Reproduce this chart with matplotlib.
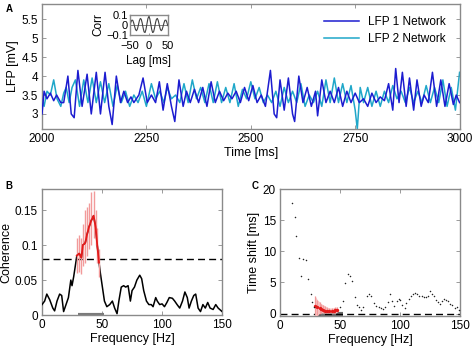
import matplotlib
matplotlib.use("Agg")
import matplotlib.pyplot as plt
import numpy as np

plt.rcParams['font.family'] = ['Liberation Sans', 'DejaVu Sans']
plt.rcParams['font.size'] = 8

# ---------------- Panel A data ----------------
lfp1_t = [2000, 2005, 2012, 2020, 2028, 2035, 2045, 2052, 2062, 2070, 2077, 2086, 2096, 2108,
          2118, 2130, 2140, 2151, 2160, 2168, 2178, 2188, 2196, 2205, 2213, 2220, 2232, 2242,
          2252, 2262, 2272, 2281, 2290, 2300, 2310, 2318, 2328, 2338, 2346, 2355, 2365, 2375,
          2385, 2395, 2405, 2415, 2425, 2435, 2445, 2455, 2465, 2475, 2485, 2495, 2505, 2515,
          2525, 2535, 2547, 2556, 2562, 2570, 2580, 2590, 2600, 2605, 2615, 2625, 2635, 2645,
          2655, 2660, 2670, 2680, 2690, 2700, 2710, 2720, 2730, 2740, 2750, 2760, 2770, 2780,
          2790, 2800, 2810, 2820, 2830, 2840, 2847, 2855, 2863, 2872, 2880, 2890, 2898, 2908,
          2915, 2925, 2935, 2945, 2955, 2965, 2975, 2985, 2992, 3000]
lfp1_v = [3.0, 3.6, 3.4, 3.55, 3.35, 3.5, 3.3, 3.3, 4.0, 3.0, 2.9, 4.15, 3.2, 4.05,
          3.0, 4.1, 3.0, 4.1, 3.2, 2.72, 4.0, 3.3, 3.6, 3.3, 3.45, 3.3, 3.5, 3.95,
          3.3, 3.5, 3.3, 3.85, 3.1, 3.8, 3.2, 2.8, 3.9, 3.2, 3.6, 3.3, 3.65, 3.3,
          3.7, 3.2, 3.85, 3.3, 3.6, 3.35, 3.55, 3.4, 3.6, 3.3, 3.7, 3.35, 3.75, 3.3,
          3.5, 3.2, 4.15, 3.0, 2.9, 3.9, 3.1, 3.95, 3.0, 2.8, 4.0, 3.3, 3.7, 3.2,
          3.6, 2.95, 3.9, 3.3, 3.6, 3.3, 3.7, 3.2, 3.6, 3.3, 3.55, 3.3, 3.4, 3.2,
          3.55, 3.3, 3.45, 3.35, 3.8, 3.1, 4.2, 3.3, 4.1, 3.2, 3.95, 3.1, 3.9, 3.2,
          3.5, 3.3, 4.1, 3.2, 3.9, 3.2, 3.8, 3.25, 3.5, 3.3]

lfp2_t = [2000, 2005, 2012, 2020, 2028, 2036, 2045, 2052, 2058, 2065, 2072, 2080, 2090, 2100,
          2110, 2120, 2130, 2140, 2150, 2160, 2170, 2180, 2190, 2200, 2210, 2220, 2230, 2240,
          2250, 2262, 2272, 2282, 2292, 2300, 2310, 2320, 2330, 2340, 2350, 2360, 2370, 2380,
          2390, 2400, 2410, 2420, 2430, 2440, 2450, 2460, 2470, 2480, 2490, 2500, 2510, 2520,
          2530, 2540, 2550, 2560, 2570, 2580, 2590, 2600, 2610, 2620, 2630, 2640, 2650, 2660,
          2670, 2680, 2690, 2700, 2710, 2720, 2730, 2740, 2750, 2755, 2762, 2770, 2780, 2790,
          2800, 2810, 2820, 2830, 2840, 2850, 2860, 2870, 2880, 2890, 2900, 2910, 2920, 2930,
          2940, 2950, 2960, 2970, 2980, 2990, 3000]
lfp2_v = [3.4, 3.2, 3.6, 3.5, 3.9, 3.4, 3.2, 3.55, 3.7, 3.3, 3.7, 3.9, 3.2, 3.9,
          3.3, 3.95, 3.3, 3.85, 3.3, 3.8, 3.2, 3.75, 3.3, 3.6, 3.2, 3.5, 3.3, 3.6,
          3.2, 3.8, 3.4, 3.6, 3.3, 3.7, 3.4, 3.5, 3.3, 3.8, 3.3, 3.9, 3.4, 3.7,
          3.3, 3.8, 3.3, 3.85, 3.3, 3.7, 3.3, 3.8, 3.2, 3.65, 3.4, 3.85, 3.4, 3.7,
          3.3, 3.5, 3.3, 3.6, 3.2, 3.7, 3.3, 3.6, 3.3, 3.8, 3.2, 3.5, 3.3, 3.6,
          3.2, 3.9, 3.3, 3.95, 3.3, 3.8, 3.3, 3.75, 3.1, 2.6, 3.7, 3.3, 3.7, 3.2,
          3.6, 3.2, 3.6, 3.3, 3.75, 3.4, 3.6, 3.3, 3.7, 3.3, 3.6, 3.3, 3.75, 3.3,
          3.7, 3.3, 3.9, 3.2, 3.7, 3.1, 4.1]

lag = [-50, -47.5, -45, -42.5, -40, -37.5, -35, -32.5, -30, -27.5, -25, -22.5, -20, -17.5,
       -15, -12.5, -10, -7.5, -5, -2.5, 0, 2.5, 5, 7.5, 10, 12.5, 15, 17.5, 20, 22.5, 25,
       27.5, 30, 32.5, 35, 37.5, 40, 42.5, 45, 47.5, 50]
corr = [-0.007, 0.027, 0.048, 0.047, 0.022, -0.015, -0.047, -0.057, -0.039, 0.0, 0.042,
        0.065, 0.057, 0.02, -0.031, -0.069, -0.075, -0.044, 0.012, 0.063, 0.085, 0.063,
        0.012, -0.044, -0.075, -0.069, -0.031, 0.02, 0.057, 0.065, 0.042, 0.0, -0.039,
        -0.057, -0.047, -0.015, 0.022, 0.047, 0.048, 0.027, -0.007]

# ---------------- Panel B data ----------------
coh_f = [0, 2.2, 4, 6.4, 9, 10.5, 12.5, 14.7, 16.4, 18, 20, 22, 24, 25, 26.4, 28.6, 29,
         31, 32.8, 34, 36, 37.5, 39, 41, 43, 44.7, 46, 47.5, 48.6, 50.3, 52, 54, 56.4,
         58.6, 60.5, 62.5, 64, 66, 68, 69.7, 71.7, 73.6, 75, 77, 79, 81.4, 83, 84.7, 87,
         89, 91, 92.5, 94.7, 96, 98, 100, 102, 104, 106, 108.6, 110.5, 112.5, 114.7, 117,
         119, 121, 122.5, 124.4, 126.4, 128, 130, 132, 134, 136, 138, 140, 142.5, 144.7,
         146.7, 150]
coh_v = [0.015, 0.02, 0.03, 0.022, 0.01, 0.006, 0.02, 0.03, 0.028, 0.005, 0.015, 0.025,
         0.05, 0.042, 0.055, 0.08, 0.085, 0.088, 0.082, 0.1, 0.103, 0.115, 0.125, 0.135,
         0.142, 0.125, 0.1, 0.075, 0.06, 0.04, 0.02, 0.012, 0.015, 0.02, 0.01, 0.002, 0.02,
         0.04, 0.042, 0.04, 0.042, 0.02, 0.035, 0.04, 0.05, 0.057, 0.052, 0.035, 0.02,
         0.015, 0.015, 0.012, 0.025, 0.02, 0.015, 0.016, 0.012, 0.018, 0.025, 0.024, 0.02,
         0.015, 0.01, 0.02, 0.033, 0.025, 0.01, 0.02, 0.028, 0.03, 0.01, 0.005, 0.015,
         0.01, 0.018, 0.01, 0.008, 0.015, 0.01, 0.005]
sig_f = [29, 31, 32.8, 34, 36, 37.5, 39, 41, 43, 44.7, 46, 47.5]
sig_coh = [0.085, 0.088, 0.082, 0.1, 0.103, 0.115, 0.125, 0.135, 0.142, 0.125, 0.1, 0.075]
coh_lo = [0.06, 0.062, 0.058, 0.07, 0.075, 0.085, 0.095, 0.1, 0.11, 0.1, 0.075, 0.055]
coh_hi = [0.11, 0.115, 0.11, 0.13, 0.15, 0.155, 0.16, 0.176, 0.177, 0.15, 0.125, 0.095]
coh_thresh = 0.08
band = [30, 52]

# ---------------- Panel C data ----------------
shift_f = [9.7, 12, 13.3, 15.3, 17.5, 19.2, 21.4, 23, 25.3, 26.7, 27.8, 49.7, 52, 54.4,
           56.4, 58, 59.7, 62, 64, 65.3, 67, 69, 72, 74, 76, 78, 80, 82, 84, 86, 87.5, 89.7,
           91.4, 93, 95, 97, 98.6, 100, 101.7, 103.6, 105, 107, 108.6, 110.5, 112.5, 114,
           116, 118, 119.7, 121.4, 123, 124.7, 126.4, 128, 129.7, 131.4, 133, 134.7, 136.4,
           138, 139.7, 141.4, 143, 145.3, 147.2, 149]
shift_v = [17.85, 15.6, 12.5, 9.0, 6.0, 8.85, 8.6, 5.6, 3.1, 1.9, 1.1, 1.0, 2.0, 4.9,
           6.3, 6.0, 5.2, 2.7, 1.45, 1.1, 0.55, 1.1, 2.8, 3.15, 2.8, 1.7, 1.2, 1.0, 0.86,
           0.7, 1.1, 1.8, 3.1, 2.0, 1.2, 2.0, 2.4, 2.25, 1.45, 0.9, 1.7, 2.4, 2.9, 3.15,
           3.3, 3.2, 2.9, 2.8, 2.6, 2.6, 2.9, 3.6, 3.1, 2.8, 2.15, 1.8, 1.6, 2.0, 2.3, 2.25,
           2.0, 1.6, 1.35, 0.9, 1.1, 0.6]
sig_shift = [1.3, 1.0, 0.9, 0.7, 0.6, 0.5, 0.45, 0.45, 0.45, 0.5, 0.55, 0.6]
shift_lo = [-0.3, -0.3, 0.0, 0.1, 0.1, 0.1, 0.1, 0.1, 0.1, 0.1, 0.1, 0.2]
shift_hi = [2.9, 2.2, 1.9, 1.6, 1.4, 1.2, 1.0, 0.9, 0.9, 0.9, 1.0, 1.1]

dark_blue = '#1c1cd0'
cyan = '#1fa7c9'
spine_gray = '#8a8a8a'
red = '#e41a1a'
pink = '#f29a9a'

TICK_FS = 8.5
LABEL_FS = 9


def style(ax):
    for s in ax.spines.values():
        s.set_color(spine_gray)
        s.set_linewidth(1.0)
    ax.tick_params(direction='in', top=True, right=True, length=3, width=0.6,
                   color=spine_gray, labelsize=TICK_FS, pad=3)


fig = plt.figure(figsize=(4.74, 3.47), dpi=100)

# Panel A
axA = fig.add_axes([0.0886, 0.628, 0.881, 0.360])
axA.plot(lfp1_t, lfp1_v, color=dark_blue, lw=1.1, label='LFP 1 Network', zorder=3)
axA.plot(lfp2_t, lfp2_v, color=cyan, lw=1.1, label='LFP 2 Network', zorder=2)
axA.set_xlim(2000, 3000)
axA.set_ylim(2.6, 5.9)
axA.set_xticks([2000, 2250, 2500, 2750, 3000])
axA.set_yticks([3, 3.5, 4, 4.5, 5, 5.5])
axA.set_yticklabels(['3', '3.5', '4', '4.5', '5', '5.5'])
axA.set_xlabel('Time [ms]', labelpad=1, fontsize=LABEL_FS)
axA.set_ylabel('LFP [mV]', labelpad=2, fontsize=LABEL_FS)
style(axA)
axA.legend(loc='upper right', frameon=False, fontsize=8.5, handlelength=3.0,
           bbox_to_anchor=(0.985, 0.96), borderaxespad=0.2, labelspacing=0.4)

# Inset
axI = fig.add_axes([0.274, 0.899, 0.080, 0.058])
axI.axhline(0, color='#707070', lw=0.6)
axI.plot(lag, corr, color='#404040', lw=0.8)
axI.set_xlim(-50, 50)
axI.set_ylim(-0.1, 0.1)
axI.set_xticks([-50, 0, 50])
axI.set_yticks([-0.1, 0, 0.1])
axI.set_yticklabels(['\u22120.1', '0', '0.1'])
axI.set_xlabel('Lag [ms]', labelpad=2.5, fontsize=8.5)
axI.set_ylabel('Corr', labelpad=1, fontsize=8.5)
style(axI)
axI.tick_params(length=1.5, labelsize=8)
axI.tick_params(axis='x', pad=4.5)
axI.tick_params(axis='y', pad=1.5)

# Panel B
axB = fig.add_axes([0.0886, 0.092, 0.380, 0.363])
axB.plot(band, [0.0008, 0.0008], color='#7a7a7a', lw=3, solid_capstyle='butt', zorder=2)
axB.axhline(coh_thresh, color='black', lw=1.0, ls=(0, (5, 3)), zorder=2)
axB.plot(coh_f, coh_v, color='black', lw=1.1, zorder=3)
axB.vlines(sig_f, coh_lo, coh_hi, color=pink, lw=1.0, zorder=4)
axB.plot(sig_f, sig_coh, color=red, lw=1.3, zorder=5)
axB.set_xlim(0, 150)
axB.set_ylim(0, 0.18)
axB.set_xticks([0, 50, 100, 150])
axB.set_yticks([0, 0.05, 0.1, 0.15])
axB.set_yticklabels(['0', '0.05', '0.1', '0.15'])
axB.set_xlabel('Frequency [Hz]', labelpad=1, fontsize=LABEL_FS)
axB.set_ylabel('Coherence', labelpad=2, fontsize=LABEL_FS)
style(axB)

# Panel C
axC = fig.add_axes([0.591, 0.089, 0.380, 0.366])
axC.plot(band, [0.0, 0.0], color='#6a6a6a', lw=3, solid_capstyle='butt', zorder=2)
axC.axhline(0, color='black', lw=1.0, ls=(0, (5, 3)), zorder=2)
axC.fill_between(sig_f, shift_lo, shift_hi, color='#f7c4c4', lw=0, zorder=3)
axC.vlines(sig_f, shift_lo, shift_hi, color=pink, lw=0.9, zorder=4)
axC.plot(sig_f, sig_shift, ls='none', marker='o', ms=1.4, color=red, zorder=5)
axC.plot(shift_f, shift_v, ls='none', marker='o', ms=1.1, mew=0, color='#222222', zorder=5)
axC.set_xlim(0, 150)
axC.set_ylim(-0.4, 20)
axC.set_xticks([0, 50, 100, 150])
axC.set_yticks([0, 5, 10, 15, 20])
axC.set_xlabel('Frequency [Hz]', labelpad=1, fontsize=LABEL_FS)
axC.set_ylabel('Time shift [ms]', labelpad=2, fontsize=LABEL_FS)
style(axC)

fig.text(0.012, 0.965, 'A', fontsize=7, fontweight='bold')
fig.text(0.012, 0.455, 'B', fontsize=7, fontweight='bold')
fig.text(0.530, 0.455, 'C', fontsize=7, fontweight='bold')

fig.savefig('out.png', dpi=100)
